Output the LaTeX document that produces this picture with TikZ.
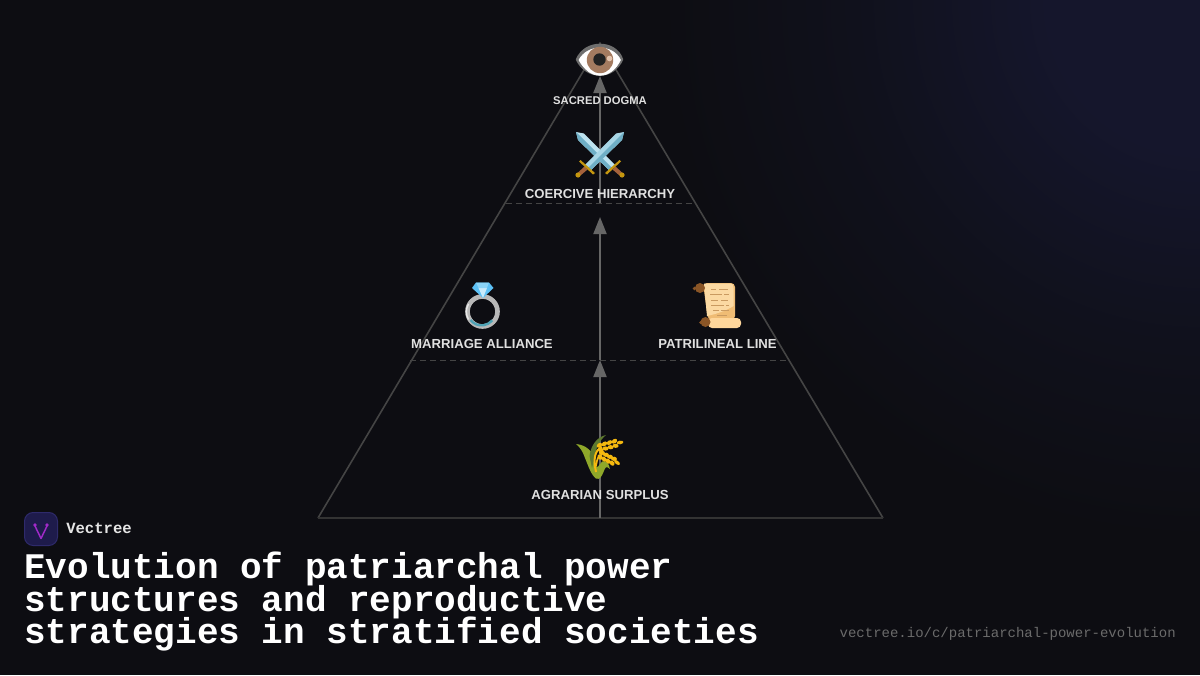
\documentclass[tikz,border=0pt]{standalone}
\usepackage{fontspec}
\setmainfont{Liberation Sans}
\setmonofont{Liberation Mono}
\AtBeginDocument{\lineskiplimit=-100pt\relax}
\definecolor{bgbase}{HTML}{0D0D12}
\definecolor{bgblue}{HTML}{15162C}
\definecolor{bgmid}{HTML}{10111C}
\pgfdeclareradialshading{glow}{\pgfpoint{0bp}{0bp}}{color(0bp)=(bgblue);color(7bp)=(bgblue);color(16bp)=(bgmid);color(25bp)=(bgbase);color(50bp)=(bgbase)}
\usetikzlibrary{arrows.meta}
\definecolor{HTMLtri}{HTML}{444444}
\definecolor{HTMLbase}{HTML}{333333}
\definecolor{HTMLtier}{HTML}{444444}
\definecolor{HTMLflow}{HTML}{666666}
\definecolor{HTMLlab}{HTML}{E0E0E0}
\definecolor{HTMLtxt}{HTML}{E5E5E5}
\definecolor{UrlC}{HTML}{6B6B6B}
\definecolor{gold}{HTML}{F5B90F}
\definecolor{EyeRim}{HTML}{6E6E6E}
\definecolor{Iris}{HTML}{A47B60}
\definecolor{Pupil}{HTML}{222222}
\definecolor{Glint}{HTML}{E3C4AE}
\definecolor{BladeL}{HTML}{BDE3F0}
\definecolor{BladeM}{HTML}{A8D6E6}
\definecolor{BladeD}{HTML}{6FAFC6}
\definecolor{HiltB}{HTML}{A5623C}
\definecolor{Guard}{HTML}{C4960F}
\definecolor{RingG}{HTML}{B8B8B8}
\definecolor{RingT}{HTML}{4FA3B5}
\definecolor{RingL}{HTML}{E8E8E8}
\definecolor{DiaB}{HTML}{5CC0F5}
\definecolor{DiaL}{HTML}{C8EAFB}
\definecolor{DiaD}{HTML}{8AD4F8}
\definecolor{PaperD}{HTML}{EFBC74}
\definecolor{Paper}{HTML}{FBD9A2}
\definecolor{Ink}{HTML}{C99A60}
\definecolor{Roll}{HTML}{FFD79B}
\definecolor{Knob}{HTML}{8A5526}
\definecolor{LeafL}{HTML}{8FA82A}
\definecolor{LeafD}{HTML}{5E7A2E}
\definecolor{LogoE}{HTML}{2E2A6B}
\definecolor{LogoF}{HTML}{1E1B4B}
\definecolor{LogoP}{HTML}{A02AC8}
\tikzset{
  tri/.style={draw=HTMLtri,line width=1.2pt},
  basel/.style={draw=HTMLbase,line width=1.5pt},
  tier/.style={draw=HTMLtier,line width=0.75pt,dash pattern=on 4.5pt off 3pt},
  flow/.style={draw=HTMLflow,line width=1.5pt,-{Triangle[length=12.75pt,width=9.75pt,fill=HTMLflow]}},
  lab/.style={font=\fontsize{9.85pt}{11pt}\selectfont\bfseries,text=HTMLlab,inner sep=0pt},
  labs/.style={font=\fontsize{8.43pt}{10pt}\selectfont\bfseries,text=HTMLlab,inner sep=0pt},
  ttl/.style={font=\fontsize{27pt}{24.4pt}\selectfont\ttfamily\bfseries,text=white,inner sep=0pt,align=left,anchor=north west},
}
\begin{document}
\begin{tikzpicture}[x=0.75pt,y=-0.75pt]
\useasboundingbox (0,0) rectangle (1200,675);
\fill[bgbase] (0,0) rectangle (1200,675);
\begin{scope}
\clip (0,0) rectangle (1200,675);
\shade[shading=glow] (1200,0) circle (540);
\end{scope}
% coordinates
\coordinate (apex) at (600,43);
\coordinate (bl) at (318,518);
\coordinate (br) at (883,518);
\coordinate (t1l) at (410,360.5);
\coordinate (t1r) at (786,360.5);
\coordinate (t2l) at (506,203.5);
\coordinate (t2r) at (692,203.5);
\coordinate (b0) at (600,518);
\coordinate (b1) at (600,360);
\coordinate (b2) at (600,217);
\coordinate (b3) at (600,203);
\coordinate (b4) at (600,76);
% pyramid
\draw[tri,line join=round] (bl) -- (apex) -- (br);
\draw[basel] (bl) -- (br);
\draw[tier] (t1l) -- (t1r);
\draw[tier] (t2l) -- (t2r);
\draw[flow] (b0) -- (b1);
\draw[flow] (b1) -- (b2);
\draw[flow] (b3) -- (b4);
% eye
\filldraw[fill=EyeRim,draw=EyeRim,line width=1.2pt,line join=round] (576.5,59.5) .. controls (581,49.5) and (590,44.5) .. (600,44.5) .. controls (610,44.5) and (619,49.5) .. (622.5,59.5) .. controls (618,69) and (610,75) .. (600,75) .. controls (590,75) and (581,69) .. (576.5,59.5) -- cycle;
\filldraw[fill=white,draw=white,line width=0.5pt,line join=round] (579,60) .. controls (583,52.5) and (591,48) .. (600,48) .. controls (609,48) and (617,52.5) .. (620.5,60) .. controls (616,69) and (609,75.3) .. (600,75.3) .. controls (591,75.3) and (584,69) .. (579,60) -- cycle;
\fill[Iris] (600,60) circle (13.2);
\fill[Pupil] (599.5,59.5) circle (6.2);
\fill[Glint] (609.5,58.5) circle (2.8);
% swords
\foreach \sx/\cb/\cd in {1/BladeL/BladeD,-1/BladeM/BladeD}{
\begin{scope}[shift={(600,0)},xscale=\sx]
\fill[\cb] (-24,132) -- (-16,133.5) -- (15.5,165.5) -- (10,171) -- (-22,140) -- cycle;
\fill[\cd] (-24,132) -- (-22,140) -- (10,171) -- (12.5,168.5) -- cycle;
\fill[HiltB] (12.5,169.5) -- (15.5,166.5) -- (22,172.5) -- (19.5,175.5) -- cycle;
\fill[Guard] (5,173) -- (19.5,160) -- (21,161.5) -- (7,174.5) -- cycle;
\fill[Guard] (22,175) circle (2.6);
\end{scope}}
% ring
\draw[RingG,line width=3.5pt] (482.5,311.5) circle (15);
\draw[RingT,line width=1.8pt] (470.5,320) arc[start angle=142,end angle=40,radius=14];
\draw[RingL,line width=1pt] (468.5,304) arc[start angle=210,end angle=150,radius=15.5];
\fill[DiaB] (476,282.5) -- (489,282.5) -- (493.5,288) -- (483,298) -- (472,288) -- cycle;
\fill[DiaL] (478.5,288) -- (487,288) -- (483,298) -- cycle;
\fill[DiaD] (476,282.5) -- (489,282.5) -- (487,288) -- (478.5,288) -- cycle;
% scroll
\fill[PaperD,rounded corners=3pt] (703,283) -- (735,283) -- (735,320) -- (708,320) -- cycle;
\fill[Paper] (704,283.5) -- (730,283.5) .. controls (733,283.5) and (733.5,285) .. (733.5,288) -- (733.5,306) .. controls (726,311) and (716,314) .. (707,316) -- cycle;
\foreach \yy/\xa/\xb in {289/711/716,289/719/728,294/710/722,294/724/729,300/711/718,300/721/728,305/711/724,305/726/729,310/713/719,310/721/729,315/717/727}{
  \draw[Ink,line width=0.55pt] (\xa,\yy) -- (\xb,\yy);}
\fill[Roll,rounded corners=3pt] (708,318) rectangle (741,328);
\fill[Knob] (700,288) circle (5);
\fill[Knob] (694.5,288.5) circle (1.8);
\fill[Knob] (705.5,322) circle (5);
\fill[Knob] (701,322.5) circle (1.8);
% wheat
\fill[LeafL] (576,444) .. controls (586,445) and (593,451) .. (595,461) .. controls (596,467) and (597,469) .. (600,464) .. controls (603,459) and (608,460) .. (610,469) .. controls (606,465) and (605,468) .. (603.5,472) .. controls (601.5,477) and (599.5,480) .. (596,478.5) .. controls (591,475) and (588,465) .. (585,458) .. controls (583,452) and (580,447) .. (576,444) -- cycle;
\fill[LeafD] (606,435) .. controls (597,437) and (591,445) .. (589.5,456) -- (592,468) -- (594.5,458) .. controls (595.5,448) and (600,440) .. (606,435) -- cycle;
\draw[gold,line width=1.5pt] (596,472) .. controls (593,458) and (595,450) .. (602,447);
\draw[gold,line width=1.3pt] (596,466) .. controls (597,459) and (598,456) .. (602,454.5);
\foreach \ex/\ey in {600/447.7,605/446.3,610/445,615/443.6}{
  \fill[gold,rotate around={35:(\ex-0.6,\ey-2.4)}] (\ex-0.6,\ey-2.4) ellipse (3 and 2.1);
  \fill[gold,rotate around={-5:(\ex+0.6,\ey+2.2)}] (\ex+0.6,\ey+2.2) ellipse (3 and 2.1);}
\fill[gold,rotate around={10:(620,442.5)}] (620,442.5) ellipse (3.4 and 1.8);
\foreach \ex/\ey in {601/455,605/457,609/459,613/461}{
  \fill[gold,rotate around={-5:(\ex+1,\ey-2.2)}] (\ex+1,\ey-2.2) ellipse (3 and 2.1);
  \fill[gold,rotate around={-50:(\ex-1,\ey+2.1)}] (\ex-1,\ey+2.1) ellipse (3 and 2.1);}
\fill[gold,rotate around={-35:(617,462.5)}] (617,462.5) ellipse (3.4 and 1.8);
% labels
\node[labs] (dogma) at (600,100.5) {SACRED DOGMA};
\node[lab] (coerc) at (600,194) {COERCIVE HIERARCHY};
\node[lab] (marr) at (482,344) {MARRIAGE ALLIANCE};
\node[lab] (patr) at (717.5,344) {PATRILINEAL LINE};
\node[lab] (agra) at (600,495) {AGRARIAN SURPLUS};
% logo
\node[draw=LogoE,fill=LogoF,line width=0.75pt,rounded corners=6.5pt,minimum width=24.75pt,minimum height=24.75pt,inner sep=0pt] (logo) at (41,529) {};
\draw[LogoP,line width=1.1pt,line cap=round,line join=round] (35,526) -- (41,538.5) -- (47,526);
\fill[LogoP] (35,525) circle (1.8) (47,525) circle (1.8);
\node[font=\fontsize{11.7pt}{14pt}\selectfont\ttfamily\bfseries,text=HTMLtxt,inner sep=0pt,anchor=west] (brand) at (66,528.5) {Vectree};
\node[ttl] (title) at (24,552) {Evolution of patriarchal power\\structures and reproductive\\strategies in stratified societies};
\node[font=\fontsize{10.5pt}{12pt}\selectfont\ttfamily,text=UrlC,inner sep=0pt,anchor=east] (url) at (1176,633.5) {vectree.io/c/patriarchal-power-evolution};
\end{tikzpicture}
\end{document}
